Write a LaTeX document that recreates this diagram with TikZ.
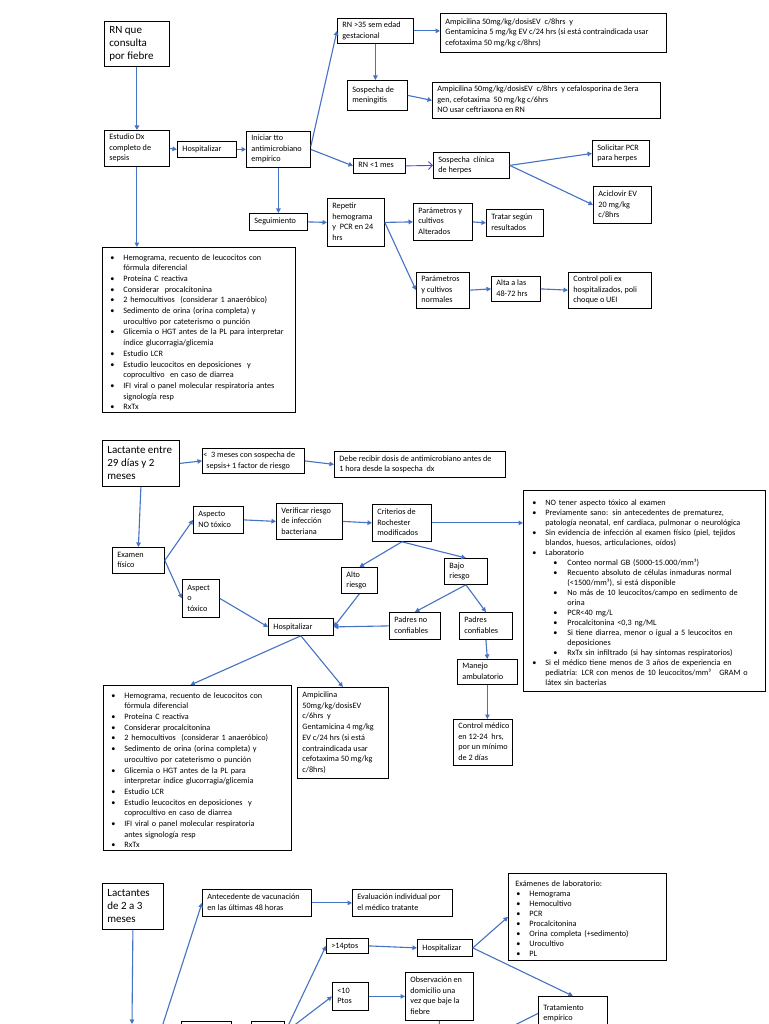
\documentclass[tikz,border=0pt]{standalone}
\usepackage{fontspec}
\setmainfont{Carlito}
\usetikzlibrary{arrows.meta,calc}
\definecolor{cblue}{RGB}{68,114,196}
\definecolor{cviolet}{RGB}{80,70,235}
% simple box: lines set in a left-aligned tabular, never broken
\newcommand\bx[7][]{%
  \pgfmathsetmacro\bxw{#5-#3}%
  \pgfmathsetmacro\bxh{#6-#4}%
  \pgfmathsetmacro\bxt{#5-#3-10}%
  \node[box,#1,minimum width=\bxw pt,minimum height=\bxh pt] (#2) at (#3,#4)
    {\makebox[\bxt pt][l]{\begin{tabular}{@{}l@{}}#7\end{tabular}}};}
% list box: paragraph lines
\newcommand\bl[7][]{%
  \pgfmathsetmacro\bxw{#5-#3}%
  \pgfmathsetmacro\bxh{#6-#4}%
  \pgfmathsetmacro\bxt{#5-#3-10}%
  \node[box,#1,minimum width=\bxw pt,minimum height=\bxh pt,text width=\bxt pt] (#2) at (#3,#4) {#7};}
\newcommand\li[1]{\par\noindent\hbox to 16pt{\hspace{3pt}\textbullet\hfil}#1}
\newcommand\lc[1]{\par\noindent\hspace*{16pt}#1}
\newcommand\lm[1]{\par\noindent\hbox to 17pt{\hspace{4pt}\textbullet\hfil}#1}
\newcommand\lmc[1]{\par\noindent\hspace*{17pt}#1}
\newcommand\lsub[1]{\par\noindent\hbox to 39pt{\hspace{25pt}\textbullet\hfil}#1}
\newcommand\lsc[1]{\par\noindent\hspace*{39pt}#1}
\tikzset{
  box/.style={draw=black, line width=0.8pt, anchor=north west, inner xsep=5pt, inner ysep=2pt,
    font=\fontsize{8.2}{10.5}\selectfont},
  big/.style={font=\fontsize{11}{13}\selectfont},
  lst/.style={font=\fontsize{8.2}{10.7}\selectfont},
  lstb/.style={font=\fontsize{8.2}{10}\selectfont},
  conn/.style={draw=cblue, line width=1.1pt, -{Triangle[length=4.5pt,width=4.5pt]}},
  plain/.style={draw=cblue, line width=1.1pt},
  herp/.style={draw=cviolet, line width=0.9pt, -{Straight Barb[length=4pt,width=8pt]}}
}
\begin{document}
\begin{tikzpicture}[x=1pt,y=-1pt]
\useasboundingbox (0,0) rectangle (768,1024);
\clip (0,0) rectangle (768,1024);
\fill[white] (0,0) rectangle (768,1024);
% ---------------- Section 1 ----------------
\bx[big]{rn}{104}{21}{169}{66}{RN que\\consulta\\por fiebre}
\bx{estudio}{104}{130}{169}{166}{Estudio Dx\\completo de\\sepsis}
\bx{hosp1}{177}{141}{236}{157}{Hospitalizar}
\bx{iniciar}{246}{131}{310}{167}{Iniciar tto\\antimicrobiano\\empírico}
\bx{seg}{249}{213}{307}{230}{Seguimiento}
\bl[lst]{list1}{102}{247}{295}{406}{%
\li{Hemograma, recuento de leucocitos con}\lc{fórmula diferencial}%
\li{Proteína C reactiva}\li{Considerar~ procalcitonina}%
\li{2 hemocultivos~ (considerar 1 anaeróbico)}%
\li{Sedimento de orina (orina completa) y}\lc{urocultivo por cateterismo o punción}%
\li{Glicemia o HGT antes de la PL para interpretar}\lc{índice glucorragia/glicemia}%
\li{Estudio LCR}%
\li{Estudio leucocitos en deposiciones~ y}\lc{coprocultivo~ en caso de diarrea}%
\li{IFI viral o panel molecular respiratoria antes}\lc{signología resp}%
\li{RxTx}}
\bx{rn35}{337}{18}{413}{43}{RN >35 sem edad\\gestacional}
\bx{amp1}{440}{13}{666}{52}{Ampicilina 50mg/kg/dosisEV~ c/8hrs~ y\\Gentamicina 5 mg/kg EV c/24 hrs (si está contraindicada usar\\cefotaxima 50 mg/kg c/8hrs)}
\bx{men}{347}{80}{407}{110}{Sospecha de\\meningitis}
\bx{amp2}{432}{82}{660}{118}{Ampicilina 50mg/kg/dosisEV~ c/8hrs~ y cefalosporina de 3era\\gen, cefotaxima~ 50 mg/kg c/6hrs\\NO usar ceftriaxona en RN}
\bx{rn1}{353}{158}{405}{173}{RN <1 mes}
\bx{herpes}{433}{152}{509}{178}{Sospecha~ clínica\\de herpes}
\bx{pcr}{592}{140}{649}{166}{Solicitar PCR\\para herpes}
\bx{acic}{593}{186}{651}{223}{Aciclovir EV\\20 mg/kg\\c/8hrs}
\bx{repetir}{327}{198}{384}{246}{Repetir\\hemograma\\y~ PCR en 24\\hrs}
\bx{palt}{413}{203}{472}{240}{Parámetros y\\cultivos\\Alterados}
\bx{tratar}{486}{209}{543}{236}{Tratar según\\resultados}
\bx{pnorm}{416}{272}{469}{307}{Parámetros\\y cultivos\\normales}
\bx{alta}{491}{276}{540}{300}{Alta a las\\48-72 hrs}
\bx{ctrl}{568}{272}{651}{307}{Control poli ex\\hospitalizados, poli\\choque o UEI}
\draw[conn] (rn.south) -- (estudio.north);
\draw[conn] (estudio.south) -- (estudio.south |- list1.north);
\draw[conn] (estudio.east) -- (hosp1.west);
\draw[conn] (hosp1.east) -- (iniciar.west);
\draw[conn] (iniciar.south) -- (seg.north);
\draw[conn] (seg.east) -- (repetir.west);
\draw[conn] ([yshift=3pt]iniciar.east) -- (rn35.west);
\draw[conn] (iniciar.east) -- (rn1.west);
\draw[conn] (rn35.east) -- (rn35.east -| amp1.west);
\draw[conn] (rn35.south) -- (rn35.south |- men.north);
\draw[conn] (men.east) -- (amp2.west);
\draw[herp] (rn1.east) -- (herpes.west);
\draw[conn] (herpes.east) -- (pcr.west);
\draw[conn] (herpes.east) -- (acic.west);
\draw[conn] (repetir.east) -- (palt.west);
\draw[conn] (palt.east) -- (tratar.west);
\draw[conn] (repetir.east) -- (pnorm.west);
\draw[conn] (pnorm.east) -- (alta.west);
\draw[conn] (alta.east) -- (ctrl.west);
% ---------------- Section 2 ----------------
\bx[big]{lact}{102}{440}{179}{486}{Lactante entre\\29 días y 2\\meses}
\bx{tres}{202}{448}{304}{473}{\hspace*{-4pt}<~ 3 meses con sospecha de\\ \hspace*{-1pt}sepsis+ 1 factor de riesgo}
\bx{debe}{334}{451}{505}{477}{Debe recibir dosis de antimicrobiano antes de\\1 hora desde la sospecha~ dx}
\bx{exam}{112}{547}{164}{573}{Examen\\físico}
\bx{aspno}{193}{506}{243}{533}{Aspecto\\NO tóxico}
\bx{aspo}{182}{579}{219}{617}{Aspect\\o\\tóxico}
\bx{verif}{276}{503}{342}{539}{Verificar riesgo\\de infección\\bacteriana}
\bx{crit}{372}{504}{431}{541}{Criterios de\\Rochester\\modificados}
\bl[lstb]{notener}{523}{490}{765}{691}{%
\lm{NO tener aspecto tóxico al examen}%
\lm{Previamente sano: sin antecedentes de prematurez,}\lmc{patología neonatal, enf cardiaca, pulmonar o neurológica}%
\lm{Sin evidencia de infección al examen físico (piel, tejidos}\lmc{blandos, huesos, articulaciones, oídos)}%
\lm{Laboratorio}%
\lsub{Conteo normal GB (5000-15.000/mm³)}%
\lsub{Recuento absoluto de células inmaduras normal}\lsc{(<1500/mm³), si está disponible}%
\lsub{No más de 10 leucocitos/campo en sedimento de}\lsc{orina}%
\lsub{PCR<40 mg/L}%
\lsub{Procalcitonina <0,3 ng/ML}%
\lsub{Si tiene diarrea, menor o igual a 5 leucocitos en}\lsc{deposiciones}%
\lsub{RxTx sin infiltrado (si hay síntomas respiratorios)}%
\lm{Si el médico tiene menos de 3 años de experiencia en}\lmc{pediatría: LCR con menos de 10 leucocitos/mm³~~ GRAM o}\lmc{látex sin bacterias}}
\bx{alto}{341}{567}{377}{593}{Alto\\riesgo}
\bx{bajo}{444}{558}{487}{584}{Bajo\\riesgo}
\bx{hosp2}{268}{618}{333}{635}{Hospitalizar}
\bx{pno}{389}{612}{440}{639}{Padres no\\confiables}
\bx{pconf}{459}{612}{512}{639}{Padres\\confiables}
\bx{manejo}{457}{659}{517}{683}{Manejo\\ambulatorio}
\bx{cmed}{453}{719}{512}{763}{Control médico\\en 12-24~ hrs,\\por un mínimo\\de 2 días}
\bl[lst]{list2}{103}{685}{291}{836}{%
\li{Hemograma, recuento de leucocitos con}\lc{fórmula diferencial}%
\li{Proteína C reactiva}\li{Considerar procalcitonina}%
\li{2 hemocultivos~ (considerar 1 anaeróbico)}%
\li{Sedimento de orina (orina completa) y}\lc{urocultivo por cateterismo o punción}%
\li{Glicemia o HGT antes de la PL para}\lc{interpretar índice glucorragia/glicemia}%
\li{Estudio LCR}%
\li{Estudio leucocitos en deposiciones~ y}\lc{coprocultivo en caso de diarrea}%
\li{IFI viral o panel molecular respiratoria}\lc{antes signología resp}%
\li{RxTx}}
\bx[lst]{amp3}{297}{687}{388}{778}{Ampicilina\\50mg/kg/dosisEV\\c/6hrs~ y\\Gentamicina 4 mg/kg\\EV c/24 hrs (si está\\contraindicada usar\\cefotaxima 50 mg/kg\\c/8hrs)}
\draw[conn] (lact.east) -- (tres.west);
\draw[conn] (tres.east) -- (debe.west);
\draw[conn] (lact.south) -- (exam.north);
\draw[conn] (exam.east) -- (aspno.west);
\draw[conn] (exam.east) -- (aspo.west);
\draw[conn] (aspno.east) -- (verif.west);
\draw[conn] (verif.east) -- (crit.west);
\draw[conn] (crit.east) -- (crit.east -| notener.west);
\draw[conn] (crit.south) -- (alto.north);
\draw[conn] (crit.south) -- (bajo.north);
\draw[conn] (alto.south) -- (hosp2.east);
\draw[conn] (aspo.east) -- (hosp2.west);
\draw[conn] (bajo.south) -- (pno.north);
\draw[conn] (bajo.south) -- (pconf.north);
\draw[conn] (pno.west) -- (hosp2.east);
\draw[conn] (pconf.south) -- (manejo.north);
\draw[conn] (manejo.south) -- (manejo.south |- cmed.north);
\draw[conn] (hosp2.south) -- ($(list2.north)+(-7,0)$);
\draw[conn] (hosp2.south) -- (amp3.north);
% ---------------- Section 3 ----------------
\bx[big]{lac3}{102}{883}{163}{929}{Lactantes\\de 2 a 3\\meses}
\bx{ante}{202}{889}{311}{916}{Antecedente de vacunación\\en las últimas 48 horas}
\bx{evalu}{352}{889}{452}{916}{Evaluación individual por\\el médico tratante}
\bx{gt14}{326}{938}{368}{953}{>14ptos}
\bx{hosp3}{417}{939}{472}{956}{Hospitalizar}
\bl[lstb]{exams}{508}{873}{666}{960}{%
\par\noindent\hspace*{2pt}Exámenes de laboratorio:%
\li{Hemograma}\li{Hemocultivo}\li{PCR}\li{Procalcitonina}%
\li{Orina completa (+sedimento)}\li{Urocultivo}\li{PL}}
\bx{lt10}{332}{982}{368}{1010}{<10\\Ptos}
\bx{obs}{405}{972}{473}{1020}{Observación en\\domicilio una\\vez que baje la\\fiebre}
\bx{trat}{538}{996}{607}{1030}{Tratamiento\\empírico}
\bx{pb1}{181}{1021}{231}{1040}{}
\bx{pb2}{251}{1021}{284}{1040}{}
\coordinate (s3a) at (132,1024);
\coordinate (s3b) at (161,1030);
\coordinate (s3c) at (286,1030);
\coordinate (s3d) at (288,1030);
\coordinate (s3e) at (505,1030);
\coordinate (s3f) at (439,1030);
\draw[conn] (lac3.south) -- (s3a);
\draw[conn] (s3b) -- (ante.west);
\draw[conn] (s3c) -- (gt14.west);
\draw[conn] (s3d) -- (lt10.west);
\draw[conn] (ante.east) -- (evalu.west);
\draw[conn] (gt14.east) -- (hosp3.west);
\draw[conn] (lt10.east) -- (obs.west);
\draw[conn] (hosp3.east) -- (exams.west);
\draw[conn] (hosp3.east) -- (trat.north);
\draw[plain] (obs.south) -- (s3f);
\draw[plain] (s3e) -- (trat.west);
\end{tikzpicture}
\end{document}
